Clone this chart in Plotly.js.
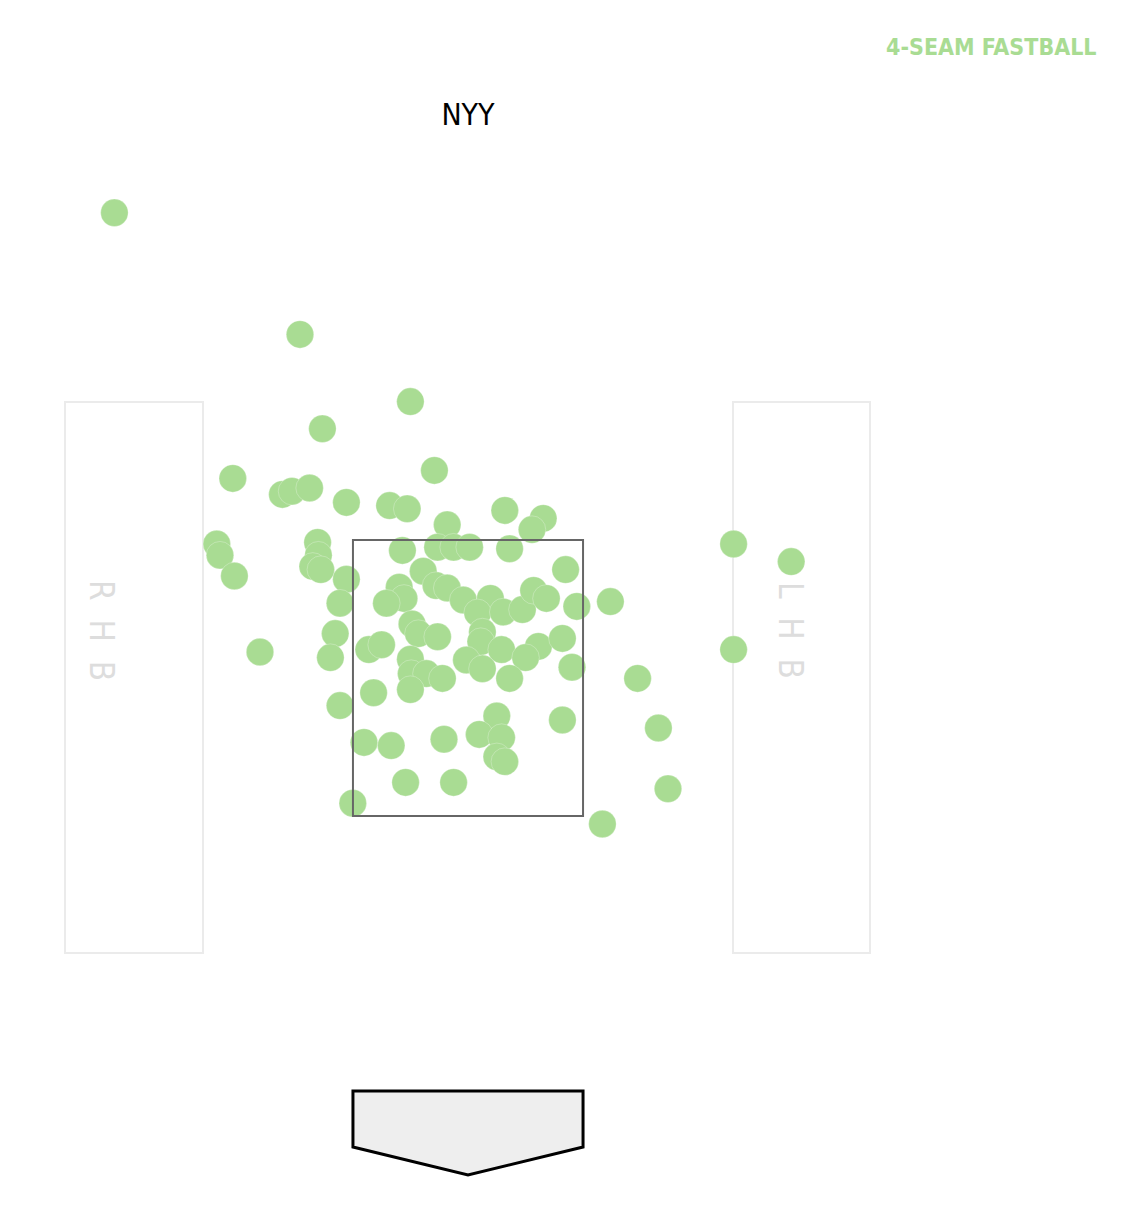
<!DOCTYPE html>
<html>
<head>
<meta charset="utf-8">
<script src="https://cdn.plot.ly/plotly-3.0.1.min.js"></script>
<style>html,body{margin:0;padding:0;background:#fff;}</style>
</head>
<body>
<div id="chart" style="width:1132px;height:1224px;"></div>
<script>
// Team and pitch type
const teamName = 'NYY';
const pitchTypeName = '4-SEAM FASTBALL';

// Pitch locations (feet): horizontal (catcher's view) and height
const pitchX = [
  -2.21, -1.05, -0.36, -0.91, -0.21, -1.47, -1.16, -1.10, -0.99, -0.76,
  -0.49, -0.38, 0.23, 0.47, 0.40, -0.13, -1.57, -1.55, -1.46, -0.94,
  -0.935, -0.97, -0.92, -0.76, -0.80, -0.41, -0.19, -0.09, 0.01, 0.26,
  0.61, -0.28, -0.20, -0.13, -0.43, -0.40, -0.51, -0.03, 0.14, 0.06,
  0.22, 0.34, 0.41, 0.49, 0.68, 0.89, 1.66, 2.02, 1.66, -0.35,
  -0.31, -0.19, -0.83, -1.30, -0.86, -0.62, -0.54, 0.09, 0.08, 0.21,
  0.44, 0.59, -0.01, 0.09, 0.36, 0.26, -0.36, -0.355, -0.26, -0.16,
  -0.36, 0.65, 1.06, -0.59, -0.80, 0.18, 0.59, 0.07, 0.21, 0.18,
  0.23, -0.15, -0.65, -0.48, 1.19, -0.39, -0.09, -0.72, 1.25, 0.84
];
const pitchZ = [
  5.27, 4.51, 4.09, 3.92, 3.66, 3.61, 3.51, 3.53, 3.55, 3.46,
  3.44, 3.42, 3.41, 3.36, 3.29, 3.32, 3.20, 3.13, 3.00, 3.21,
  3.13, 3.06, 3.04, 2.98, 2.83, 3.16, 3.18, 3.18, 3.18, 3.17,
  3.04, 3.03, 2.94, 2.925, 2.93, 2.86, 2.83, 2.85, 2.86, 2.77,
  2.775, 2.79, 2.91, 2.86, 2.81, 2.84, 3.20, 3.09, 2.54, 2.70,
  2.64, 2.62, 2.64, 2.525, 2.49, 2.54, 2.57, 2.65, 2.59, 2.54,
  2.56, 2.61, 2.475, 2.42, 2.49, 2.36, 2.48, 2.39, 2.39, 2.36,
  2.29, 2.43, 2.36, 2.27, 2.19, 2.125, 2.10, 2.01, 1.99, 1.87,
  1.84, 1.98, 1.96, 1.94, 2.05, 1.71, 1.71, 1.58, 1.67, 1.45
];

// Strike zone (feet)
const zoneX = [-0.719, 0.719];
const zoneZ = [1.5, 3.225];

// Home plate outline (feet)
const plateX = [-0.719, 0.719, 0.719, 0, -0.719];
const plateZ = [-0.219, -0.219, -0.569, -0.744, -0.569];

// Batter's boxes (feet)
const rhbBoxX = [-2.519, -1.656];
const lhbBoxX = [1.656, 2.5125];
const boxZ = [0.644, 4.0875];
const boxLabels = ['R\u00a0\u00a0H\u00a0\u00a0B', 'L\u00a0\u00a0H\u00a0\u00a0B'];
const boxLabelX = [-2.2875, 2.019];
const boxLabelZ = [2.6625, 2.6625];

// Axis ranges (feet)
const xRange = [-2.925, 4.15];
const zRange = [-1.05, 6.6];

const green = '#a9dc93';
const condensed = "'Liberation Sans Narrow', 'DejaVu Sans Condensed', 'Roboto', sans-serif";

const platePath = plateX.map((x, i) => (i === 0 ? 'M' : 'L') + x + ',' + plateZ[i]).join(' ') + ' Z';

const traces = [{
  type: 'scatter',
  mode: 'markers',
  name: pitchTypeName,
  x: pitchX,
  y: pitchZ,
  marker: {size: 27.5, color: green, line: {color: 'rgba(255,255,255,0.45)', width: 0.6}},
  hoverinfo: 'x+y',
  showlegend: false
}];

const layout = {
  width: 1132,
  height: 1224,
  margin: {l: 0, r: 0, t: 0, b: 0},
  paper_bgcolor: '#ffffff',
  plot_bgcolor: '#ffffff',
  showlegend: false,
  title: {
    text: teamName,
    x: 468 / 1132, xanchor: 'center', xref: 'paper',
    y: 1 - 114 / 1224, yanchor: 'middle', yref: 'container',
    font: {family: condensed, size: 30, color: '#000000'}
  },
  xaxis: {range: xRange, visible: false, showgrid: false, zeroline: false, fixedrange: true},
  yaxis: {range: zRange, visible: false, showgrid: false, zeroline: false, fixedrange: true},
  shapes: [
    {type: 'rect', xref: 'x', yref: 'y', x0: rhbBoxX[0], x1: rhbBoxX[1], y0: boxZ[0], y1: boxZ[1],
     line: {color: '#ebebeb', width: 2}, fillcolor: 'rgba(0,0,0,0)', layer: 'below'},
    {type: 'rect', xref: 'x', yref: 'y', x0: lhbBoxX[0], x1: lhbBoxX[1], y0: boxZ[0], y1: boxZ[1],
     line: {color: '#ebebeb', width: 2}, fillcolor: 'rgba(0,0,0,0)', layer: 'below'},
    {type: 'path', xref: 'x', yref: 'y', path: platePath,
     line: {color: '#000000', width: 3}, fillcolor: '#eeeeee', layer: 'below'},
    {type: 'rect', xref: 'x', yref: 'y', x0: zoneX[0], x1: zoneX[1], y0: zoneZ[0], y1: zoneZ[1],
     line: {color: '#666666', width: 2}, fillcolor: 'rgba(0,0,0,0)', layer: 'above'}
  ],
  annotations: [
    {xref: 'x', yref: 'y', x: boxLabelX[0], y: boxLabelZ[0], text: boxLabels[0], textangle: 90,
     showarrow: false, font: {family: condensed, size: 33, color: '#dddddd'}},
    {xref: 'x', yref: 'y', x: boxLabelX[1], y: boxLabelZ[1], text: boxLabels[1], textangle: 90,
     showarrow: false, font: {family: condensed, size: 33, color: '#dddddd'}},
    {xref: 'paper', yref: 'paper', x: 1099 / 1132, y: 1 - 47 / 1224, xanchor: 'right', yanchor: 'middle',
     text: '<b>' + pitchTypeName + '</b>', showarrow: false,
     font: {family: condensed, size: 23, color: green}}
  ]
};

Plotly.newPlot('chart', traces, layout, {displayModeBar: false, staticPlot: false});
</script>
</body>
</html>
